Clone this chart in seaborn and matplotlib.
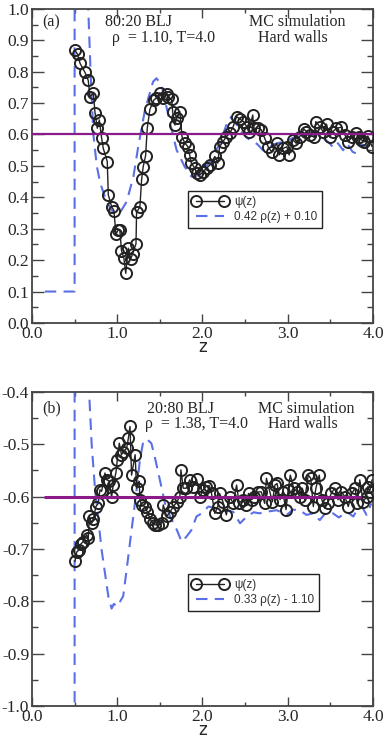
import numpy as np
import pandas as pd
import matplotlib
matplotlib.use("Agg")
import matplotlib.pyplot as plt
from matplotlib.ticker import MultipleLocator, FormatStrFormatter
import seaborn as sns

# ── Data: panel (a) 80:20 BLJ ─────────────────────────────────────────────────
psi_a_z = [0.504, 0.535, 0.563, 0.621, 0.66, 0.68, 0.72, 0.739, 0.766, 0.79,
           0.817, 0.836, 0.883, 0.895, 0.934, 0.961, 0.985, 1.01, 1.03, 1.05,
           1.078, 1.10, 1.13, 1.157, 1.18, 1.22, 1.227, 1.266, 1.286, 1.305,
           1.333, 1.352, 1.383, 1.43, 1.46, 1.50, 1.54, 1.58, 1.598, 1.638,
           1.65, 1.676, 1.696, 1.735, 1.76, 1.79, 1.83, 1.85, 1.87, 1.91,
           1.93, 1.97, 2.008, 2.05, 2.087, 2.145, 2.18, 2.20, 2.24, 2.28,
           2.32, 2.36, 2.40, 2.44, 2.48, 2.52, 2.54, 2.59, 2.60, 2.65,
           2.69, 2.73, 2.77, 2.81, 2.87, 2.90, 2.946, 2.99, 3.016, 3.06,
           3.10, 3.14, 3.19, 3.22, 3.26, 3.31, 3.33, 3.376, 3.415, 3.455,
           3.49, 3.53, 3.57, 3.63, 3.67, 3.71, 3.75, 3.80, 3.84, 3.865,
           3.90, 3.94, 3.99]
psi_a = [0.869, 0.855, 0.827, 0.798, 0.772, 0.72, 0.731, 0.67, 0.62, 0.646,
         0.588, 0.556, 0.514, 0.408, 0.37, 0.358, 0.282, 0.296, 0.296, 0.23,
         0.206, 0.158, 0.238, 0.203, 0.22, 0.252, 0.352, 0.37, 0.457, 0.498,
         0.533, 0.62, 0.68, 0.71, 0.716, 0.733, 0.716, 0.728, 0.72, 0.712,
         0.673, 0.63, 0.652, 0.673, 0.593, 0.574, 0.561, 0.535, 0.508, 0.493,
         0.477, 0.471, 0.482, 0.493, 0.503, 0.53, 0.509, 0.561, 0.577, 0.593,
         0.604, 0.625, 0.657, 0.649, 0.641, 0.625, 0.609, 0.662, 0.62, 0.62,
         0.615, 0.588, 0.561, 0.545, 0.572, 0.535, 0.556, 0.561, 0.535, 0.583,
         0.572, 0.593, 0.617, 0.609, 0.599, 0.591, 0.641, 0.625, 0.609, 0.633,
         0.593, 0.609, 0.62, 0.623, 0.599, 0.577, 0.593, 0.604, 0.593, 0.583,
         0.577, 0.595, 0.561]

rho_a_z = [0.15, 0.50, 0.50, 0.54, 0.58, 0.62, 0.66, 0.69, 0.72, 0.76,
           0.80, 0.87, 0.93, 0.97, 1.03, 1.11, 1.19, 1.246, 1.325, 1.42,
           1.46, 1.52, 1.62, 1.696, 1.79, 1.87, 1.95, 2.00, 2.10, 2.20,
           2.28, 2.33, 2.38, 2.45, 2.52, 2.57, 2.64, 2.71, 2.78, 2.85,
           2.92, 3.00, 3.10, 3.20, 3.30, 3.40, 3.48, 3.53, 3.58, 3.65,
           3.70, 3.76, 3.80, 3.86, 3.92, 3.97]
rho_a = [0.10, 0.10, 1.40, 1.60, 1.55, 1.25, 1.00, 0.78, 0.60, 0.50,
         0.446, 0.39, 0.36, 0.35, 0.35, 0.386, 0.466, 0.561, 0.678, 0.768,
         0.779, 0.758, 0.636, 0.551, 0.498, 0.466, 0.47, 0.48, 0.52, 0.57,
         0.63, 0.655, 0.64, 0.61, 0.59, 0.58, 0.57, 0.55, 0.56, 0.57,
         0.575, 0.58, 0.595, 0.60, 0.595, 0.59, 0.575, 0.56, 0.575, 0.55,
         0.57, 0.545, 0.54, 0.57, 0.56, 0.58]

# ── Data: panel (b) 20:80 BLJ ─────────────────────────────────────────────────
psi_b_z = [0.504, 0.524, 0.551, 0.571, 0.60, 0.64, 0.66, 0.672, 0.70, 0.72,
           0.75, 0.777, 0.797, 0.817, 0.856, 0.875, 0.906, 0.934, 0.953, 0.985,
           1.0, 1.024, 1.05, 1.07, 1.11, 1.13, 1.15, 1.168, 1.21, 1.227,
           1.258, 1.266, 1.286, 1.325, 1.352, 1.383, 1.415, 1.442, 1.48, 1.52,
           1.54, 1.58, 1.62, 1.66, 1.70, 1.735, 1.747, 1.774, 1.81, 1.85,
           1.89, 1.93, 1.97, 2.008, 2.04, 2.078, 2.106, 2.145, 2.18, 2.20,
           2.24, 2.28, 2.32, 2.36, 2.40, 2.43, 2.47, 2.51, 2.54, 2.575,
           2.61, 2.65, 2.69, 2.73, 2.75, 2.79, 2.82, 2.85, 2.875, 2.91,
           2.94, 2.98, 3.005, 3.03, 3.07, 3.11, 3.14, 3.17, 3.20, 3.24,
           3.27, 3.30, 3.33, 3.37, 3.40, 3.435, 3.47, 3.51, 3.55, 3.59,
           3.63, 3.67, 3.71, 3.75, 3.79, 3.815, 3.845, 3.885, 3.925, 3.94,
           3.96, 3.99]
psi_b = [-0.724, -0.706, -0.702, -0.691, -0.686, -0.673, -0.68, -0.638, -0.651, -0.642,
         -0.619, -0.613, -0.587, -0.59, -0.555, -0.568, -0.57, -0.601, -0.578, -0.554,
         -0.531, -0.498, -0.52, -0.514, -0.508, -0.489, -0.466, -0.559, -0.52, -0.584,
         -0.571, -0.606, -0.616, -0.619, -0.629, -0.642, -0.651, -0.654, -0.654, -0.65,
         -0.616, -0.638, -0.629, -0.619, -0.61, -0.60, -0.549, -0.584, -0.584, -0.568,
         -0.581, -0.567, -0.60, -0.587, -0.581, -0.579, -0.594, -0.632, -0.619, -0.594,
         -0.61, -0.635, -0.60, -0.613, -0.578, -0.613, -0.606, -0.616, -0.594, -0.606,
         -0.60, -0.591, -0.591, -0.613, -0.565, -0.591, -0.61, -0.578, -0.575, -0.606,
         -0.591, -0.625, -0.587, -0.559, -0.584, -0.591, -0.60, -0.584, -0.606, -0.559,
         -0.565, -0.619, -0.584, -0.559, -0.606, -0.622, -0.613, -0.594, -0.584, -0.606,
         -0.591, -0.60, -0.619, -0.594, -0.584, -0.613, -0.568, -0.61, -0.60, -0.581,
         -0.591, -0.568]

rho_b_z = [0.15, 0.50, 0.50, 0.58, 0.64, 0.67, 0.70, 0.74, 0.817, 0.895,
           0.934, 0.96, 1.0, 1.07, 1.11, 1.168, 1.227, 1.266, 1.305, 1.345,
           1.40, 1.44, 1.50, 1.56, 1.62, 1.70, 1.755, 1.81, 1.87, 1.93,
           1.99, 2.07, 2.145, 2.24, 2.36, 2.44, 2.52, 2.60, 2.67, 2.75,
           2.87, 2.99, 3.06, 3.14, 3.22, 3.30, 3.376, 3.45, 3.53, 3.60,
           3.69, 3.77, 3.83, 3.88, 3.925, 3.98]
rho_b = [-1.10, -1.10, -0.20, -0.15, -0.30, -0.40, -0.50, -0.587, -0.702, -0.79,
         -0.814, -0.805, -0.81, -0.79, -0.74, -0.664, -0.587, -0.53, -0.495, -0.49,
         -0.498, -0.524, -0.568, -0.613, -0.638, -0.664, -0.686, -0.677, -0.664, -0.638,
         -0.632, -0.619, -0.622, -0.626, -0.629, -0.651, -0.638, -0.63, -0.632, -0.629,
         -0.626, -0.635, -0.625, -0.626, -0.635, -0.632, -0.645, -0.63, -0.632, -0.64,
         -0.629, -0.638, -0.62, -0.622, -0.635, -0.613]

panels = [
    dict(psi_z=psi_a_z, psi=psi_a, rho_z=rho_a_z, rho=rho_a, ylim=(0.0, 1.0),
         hline=0.6, hline_x=(0.0, 4.0), hline_lw=1.6, tag="(a)", system="80:20 BLJ",
         state="\u03c1  = 1.10, T=4.0", rho_label="0.42 \u03c1(z) + 0.10",
         sys_x=0.214, state_x=0.235, mc_x=0.637, hw_x=0.663,
         top_y=0.957, low_y=0.908),
    dict(psi_z=psi_b_z, psi=psi_b, rho_z=rho_b_z, rho=rho_b, ylim=(-1.0, -0.4),
         hline=-0.6, hline_x=(0.15, 3.85), hline_lw=2.2, tag="(b)", system="20:80 BLJ",
         state="\u03c1  = 1.38, T=4.0", rho_label="0.33 \u03c1(z) - 1.10",
         sys_x=0.337, state_x=0.331, mc_x=0.663, hw_x=0.692,
         top_y=0.947, low_y=0.897),
]

# ── Plot ──────────────────────────────────────────────────────────────────────
sns.set_theme(style="ticks")
plt.rcParams["font.family"] = ["Liberation Serif", "DejaVu Serif"]
plt.rcParams["axes.unicode_minus"] = False

fig = plt.figure(figsize=(3.84, 7.39), dpi=100)
ax_rects = [[0.0833, 0.563, 0.888, 0.425], [0.0833, 0.0447, 0.888, 0.425]]

for rect, p in zip(ax_rects, panels):
    ax = fig.add_axes(rect)
    df_rho = pd.DataFrame({"z": p["rho_z"], "v": p["rho"]})
    df_psi = pd.DataFrame({"z": p["psi_z"], "v": p["psi"]})

    sns.lineplot(data=df_rho, x="z", y="v", ax=ax, sort=False, estimator=None,
                 color="#5b6fe6", lw=1.5, dashes=False, linestyle=(0, (5.5, 3.5)),
                 label=p["rho_label"], zorder=2)
    sns.lineplot(data=df_psi, x="z", y="v", ax=ax, sort=False, estimator=None,
                 color="#222222", lw=1.0, marker="o", markersize=8,
                 markerfacecolor="none", markeredgecolor="#222222",
                 markeredgewidth=1.4, label="\u03c8(z)", zorder=3)
    ax.plot(p["hline_x"], [p["hline"], p["hline"]], color="#8b1a8b",
            lw=p["hline_lw"], zorder=4)

    ax.set_xlim(0, 4)
    ax.set_ylim(*p["ylim"])
    ax.xaxis.set_major_locator(MultipleLocator(1.0))
    ax.xaxis.set_minor_locator(MultipleLocator(0.5))
    ax.yaxis.set_major_locator(MultipleLocator(0.1))
    ax.yaxis.set_minor_locator(MultipleLocator(0.05))
    ax.xaxis.set_major_formatter(FormatStrFormatter("%.1f"))
    ax.yaxis.set_major_formatter(FormatStrFormatter("%.1f"))
    ax.tick_params(which="both", direction="in", top=True, right=True,
                   color="#444444", width=1.0, labelsize=12.5, pad=2)
    ax.tick_params(axis="y", which="major", length=8.5)
    ax.tick_params(axis="y", which="minor", length=4)
    ax.tick_params(axis="x", which="major", length=6.5)
    ax.tick_params(axis="x", which="minor", length=3)
    for s in ax.spines.values():
        s.set_color("#444444")
        s.set_linewidth(1.3)

    ax.set_xlabel("z", family="DejaVu Sans", fontsize=12, labelpad=-2.5)
    ax.set_ylabel("")

    for x, y, s in [(0.029, p["top_y"], p["tag"]), (p["sys_x"], p["top_y"], p["system"]),
                    (p["state_x"], p["low_y"], p["state"]),
                    (p["mc_x"], p["top_y"], "MC simulation"),
                    (p["hw_x"], p["low_y"], "Hard walls")]:
        ax.text(x, y, s, transform=ax.transAxes, fontsize=11.5, va="center")

    h, l = ax.get_legend_handles_labels()
    leg = ax.legend(h[::-1], l[::-1], loc="upper left", bbox_to_anchor=(0.457, 0.42),
                    numpoints=2, handlelength=3.0, fancybox=False, framealpha=1,
                    edgecolor="#222222", borderpad=0.4, labelspacing=0.3,
                    handletextpad=0.5, borderaxespad=0,
                    prop={"family": "Liberation Sans", "size": 8.5})
    leg.get_frame().set_linewidth(1.0)
    for t in leg.get_texts():
        t.set_color("#333333")

fig.savefig("out.png", dpi=100)
